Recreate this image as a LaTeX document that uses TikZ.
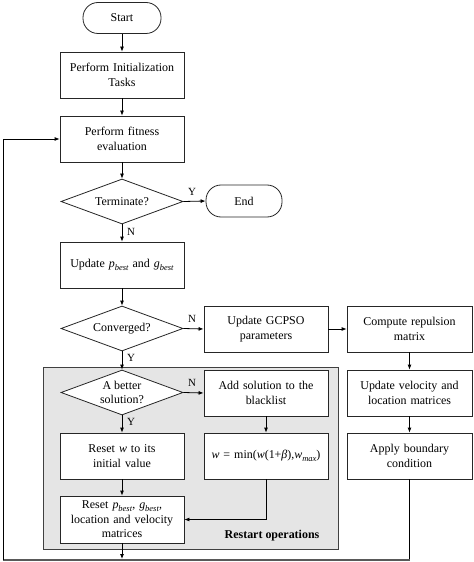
\documentclass[tikz,border=0pt]{standalone}
\usepackage{fontspec}
\setmainfont{Liberation Serif}
\usetikzlibrary{shapes.geometric,arrows.meta}
\newcommand\isub[2]{\textit{#1}\raisebox{-0.4ex}{\fontsize{8.5}{9}\selectfont\textit{#2}}}
\begin{document}
\begin{tikzpicture}[x=1bp,y=-1bp,
  every node/.style={font=\fontsize{12}{14.5}\selectfont},
  box/.style={draw=black!85,line width=0.8bp,fill=white,minimum width=124bp,minimum height=46bp,inner sep=0pt,align=center,text width=118bp},
  term/.style={draw=black!85,line width=0.8bp,fill=white,rounded corners=15bp,minimum height=31bp,inner sep=0pt},
  dec/.style={draw=black!85,line width=0.8bp,fill=white,diamond,minimum width=122bp,minimum height=45bp,inner sep=0pt},
  arr/.style={line width=0.8bp,-{Latex[length=5bp,width=4bp]}},
  ln/.style={line width=0.8bp},
  yn/.style={font=\fontsize{11}{12}\selectfont,inner sep=0pt}]
\useasboundingbox (0,0) rectangle (474,562);
\fill[white] (0,0) rectangle (474,562);
% restart group
\node[draw=black!75,line width=0.8bp,fill=black!10,minimum width=295bp,minimum height=182bp,inner sep=0pt] (grp) at (190.5,458) {};
\node[font=\fontsize{12}{14}\selectfont\bfseries,inner sep=0pt] (rlab) at (272,536) {Restart operations};
% nodes
\node[term,minimum width=78bp] (start) at (122,18) {Start};
\node[box] (init) at (122,75) {Perform Initialization\\Tasks};
\node[box] (fit) at (122,139) {Perform fitness\\evaluation};
\node[dec,label={center:Terminate?}] (termq) at (122,201.5) {};
\node[term,minimum width=76bp,minimum height=32bp] (end) at (244,201) {End};
\node[box] (upd) at (122,265) {Update \isub{p}{best} and \isub{g}{best}};
\node[dec,label={center:Converged?}] (conv) at (122,328.5) {};
\node[box] (gcpso) at (266,329) {Update GCPSO\\parameters};
\node[box,minimum width=125bp] (rep) at (409.5,329) {Compute repulsion\\matrix};
\node[dec,label={[align=center,font=\fontsize{12}{14}\selectfont]center:A better\\solution?}] (better) at (122,392.5) {};
\node[box] (add) at (266,393) {Add solution to the\\blacklist};
\node[box,minimum width=125bp] (vel) at (409.5,393) {Update velocity and\\location matrices};
\node[box] (resetw) at (122,456) {Reset \textit{w} to its\\initial value};
\node[box] (wmin) at (266,456) {\textit{w} = min(\textit{w}(1+\textit{β}),\isub{w}{max})};
\node[box,minimum width=125bp] (bound) at (409.5,456) {Apply boundary\\condition};
\node[box,minimum height=47bp] (resetp) at (122,519.5) {Reset \isub{p}{best}, \isub{g}{best},\\location and velocity\\matrices};
% coordinates
\coordinate (c1) at (409.5,560);
\coordinate (c2) at (3,560);
\coordinate (c3) at (3,139);
\coordinate (c4) at (122,559);
% connectors
\draw[arr] (start) -- (init);
\draw[arr] (init) -- (fit);
\draw[arr] (fit) -- (termq);
\draw[arr] (termq.east) -- (end.west);
\draw[arr] (termq) -- (upd);
\draw[arr] (upd) -- (conv);
\draw[arr] (conv.east) -- (gcpso.west);
\draw[arr] (gcpso) -- (rep);
\draw[arr] (conv) -- (better);
\draw[arr] (better.east) -- (add.west);
\draw[arr] (better) -- (resetw);
\draw[arr] (add) -- (wmin);
\draw[arr] (rep) -- (vel);
\draw[arr] (vel) -- (bound);
\draw[arr] (resetw) -- (resetp);
\draw[arr] (wmin.south) |- (resetp.east);
\draw[ln] (bound.south) -- (c1);
\draw[line width=2bp,black!65] (c1) -- (c2);
\draw[arr] (c2) -- (c3) -- (fit.west);
\draw[arr] (resetp.south) -- (c4);
% labels
\node[yn] (l1) at (192,192) {Y};
\node[yn] (l2) at (131,232) {N};
\node[yn] (l3) at (192,319) {N};
\node[yn] (l4) at (131,358) {Y};
\node[yn] (l5) at (192,383) {N};
\node[yn] (l6) at (131,422) {Y};
\end{tikzpicture}
\end{document}
